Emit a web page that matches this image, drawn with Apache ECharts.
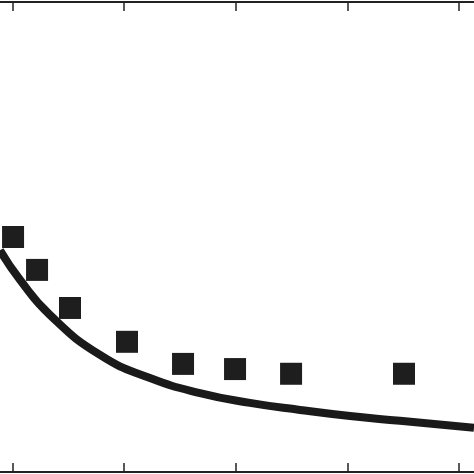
<!DOCTYPE html><html><head><meta charset="utf-8"><script src="https://cdn.jsdelivr.net/npm/echarts@6/dist/echarts.min.js"></script>
<style>html,body{margin:0;padding:0;background:#fff}#c{width:474px;height:474px}</style></head><body><div id="c"></div>
<script>
const markerX=[1.004,1.219,1.514,2.025,2.527,2.993,3.495,4.507];
const markerY=[0.5,0.43,0.349,0.277,0.23,0.219,0.209,0.209];
const curveX=[0.887,1.066,1.335,1.783,2.231,2.679,3.127,3.575,4.023,4.471,5.134];
const curveY=[0.472,0.409,0.334,0.249,0.2,0.168,0.147,0.132,0.119,0.109,0.094];
const tickValues=[1,2,3,4,5];
const chart=echarts.init(document.getElementById('c'));
const ax=(pos)=>({type:'value',position:pos,min:0.887,max:5.134,axisLabel:{show:false},splitLine:{show:false},
 axisLine:{lineStyle:{color:'#222',width:2}},axisTick:{inside:true,length:9,customValues:tickValues,lineStyle:{color:'#222',width:1.5}}});
chart.setOption({animation:false,
grid:{left:0,right:0,top:2,bottom:2,show:false},
xAxis:[ax('bottom'),ax('top')],
yAxis:{type:'value',min:0,max:1,axisLabel:{show:false},splitLine:{show:false},axisTick:{show:false},axisLine:{show:false}},
series:[
{type:'line',data:curveX.map((x,i)=>[x,curveY[i]]),smooth:true,symbol:'none',lineStyle:{color:'#1a1a1a',width:8},z:2},
{type:'scatter',data:markerX.map((x,i)=>[x,markerY[i]]),symbol:'rect',symbolSize:22,itemStyle:{color:'#1e1e1e',opacity:1},z:3}
]});
</script></body></html>
